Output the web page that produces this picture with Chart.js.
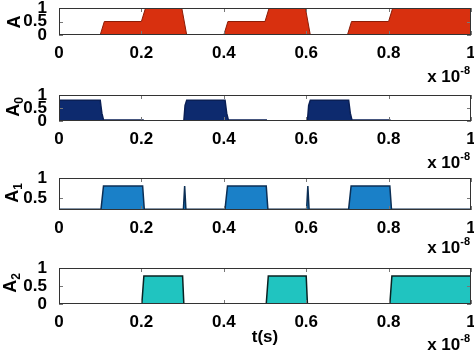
<!DOCTYPE html>
<html>
<head>
<meta charset="utf-8">
<script src="https://cdn.jsdelivr.net/npm/chart.js@4/dist/chart.umd.min.js"></script>
<style>
  body { margin: 0; background: #fff; width: 474px; height: 350px; overflow: hidden; position: relative;
         font-family: "Liberation Sans", Arial, sans-serif; font-weight: bold; }
  canvas { position: absolute; left: 0; }
  .lbl { position: absolute; font-size: 17px; line-height: 17px; white-space: nowrap; color: #000; }
  .ylab { font-size: 18px; transform: translate(-50%, -50%) rotate(-90deg); }
  .ylab sub { font-size: 12px; line-height: 0; vertical-align: -4px; }
  .exp { right: 4px; }
  .exp sup { font-size: 11px; line-height: 0; vertical-align: 8px; }
</style>
</head>
<body>
<canvas id="c1" width="474" height="67" style="top:-2px"></canvas>
<canvas id="c2" width="474" height="66" style="top:85px"></canvas>
<canvas id="c3" width="474" height="72" style="top:168px"></canvas>
<canvas id="c4" width="474" height="76" style="top:258px"></canvas>

<div class="lbl ylab" style="left:14px;top:22px">A</div>
<div class="lbl ylab" style="left:13px;top:107px">A<sub>0</sub></div>
<div class="lbl ylab" style="left:12px;top:193px">A<sub>1</sub></div>
<div class="lbl ylab" style="left:10px;top:283px">A<sub>2</sub></div>

<div class="lbl exp" style="top:68px">x 10<sup>-8</sup></div>
<div class="lbl exp" style="top:154px">x 10<sup>-8</sup></div>
<div class="lbl exp" style="top:239px">x 10<sup>-8</sup></div>
<div class="lbl exp" style="top:336px">x 10<sup>-8</sup></div>
<div class="lbl" style="left:265px;top:328px;transform:translateX(-50%)">t(s)</div>

<script>
// time in units of 1e-8 s
const xTicks = [0, 0.2, 0.4, 0.6, 0.8, 1];

// A
const tA = [0, 0.1, 0.11, 0.2, 0.21, 0.298, 0.31, 0.4, 0.41, 0.5, 0.51, 0.598, 0.61, 0.7, 0.71, 0.8, 0.81, 1];
const vA = [0, 0, 0.5, 0.5, 1, 1, 0, 0, 0.5, 0.5, 1, 1, 0, 0, 0.5, 0.5, 1, 1];

// A0
const tA0 = [0, 0.1, 0.104, 0.108, 0.204, 0.204, 0.303, 0.306, 0.31, 0.403, 0.407, 0.411, 0.503, 0.503,
             0.603, 0.606, 0.61, 0.703, 0.707, 0.711, 0.803, 0.803, 1];
const vA0 = [0.8, 0.8, 0.3, 0.04, 0.04, 0, 0, 0.6, 0.8, 0.8, 0.3, 0.04, 0.04, 0,
             0, 0.6, 0.8, 0.8, 0.3, 0.04, 0.04, 0, 0];

// A1
const tA1 = [0, 0.102, 0.108, 0.203, 0.207, 0.302, 0.305, 0.308, 0.403, 0.409, 0.503, 0.507,
             0.601, 0.604, 0.607, 0.703, 0.709, 0.803, 0.807, 1];
const vA1 = [0.22, 0.22, 0.8, 0.8, 0.22, 0.22, 0.8, 0.22, 0.22, 0.8, 0.8, 0.22,
             0.22, 0.8, 0.22, 0.22, 0.8, 0.8, 0.22, 0.22];

// A2
const tA2 = [0, 0.201, 0.206, 0.3, 0.303, 0.503, 0.508, 0.6, 0.603, 0.803, 0.808, 1];
const vA2 = [0, 0, 0.78, 0.78, 0, 0, 0.78, 0.78, 0, 0, 0.78, 0.78];

const yTicksFull = [0, 0.5, 1];
const yTicksA1 = [0.5, 1];

const fmt = v => String(Math.round(v * 10) / 10);

// plot box + small inward tick marks, like the matlab axes
const boxPlugin = {
  id: "box",
  afterDatasetsDraw(chart) {
    const { ctx, chartArea: a, scales } = chart;
    ctx.save();
    ctx.lineWidth = 1;
    ctx.strokeStyle = "#777";
    ctx.beginPath();
    scales.x.ticks.forEach(t => {
      const px = Math.round(scales.x.getPixelForValue(t.value)) + 0.5;
      ctx.moveTo(px, a.top); ctx.lineTo(px, a.top + 4);
      ctx.moveTo(px, a.bottom); ctx.lineTo(px, a.bottom - 4);
    });
    scales.y.ticks.forEach(t => {
      const py = Math.round(scales.y.getPixelForValue(t.value)) + 0.5;
      ctx.moveTo(a.left, py); ctx.lineTo(a.left + 4, py);
      ctx.moveTo(a.right, py); ctx.lineTo(a.right - 4, py);
    });
    ctx.stroke();
    ctx.strokeStyle = "#333";
    ctx.strokeRect(a.left + 0.5, a.top + 0.5, a.right - a.left - 1, a.bottom - a.top - 1);
    ctx.restore();
  }
};

function zeroPad(s) {
  s.paddingLeft = 0; s.paddingRight = 0; s.paddingTop = 0; s.paddingBottom = 0;
}

Chart.defaults.font.family = "'Liberation Sans', Arial, sans-serif";
Chart.defaults.font.weight = "bold";
Chart.defaults.font.size = 17;
Chart.defaults.color = "#000";

function makeChart(id, t, v, opts) {
  return new Chart(document.getElementById(id), {
    type: "line",
    data: {
      datasets: [{
        data: t.map((x, i) => ({ x: x, y: v[i] })),
        borderColor: opts.line,
        backgroundColor: opts.fill,
        borderWidth: opts.bw,
        fill: "start",
        pointRadius: 0,
        tension: 0
      }]
    },
    options: {
      responsive: false,
      animation: false,
      events: [],
      layout: { padding: { top: 10, right: 3, left: 0, bottom: 0 } },
      plugins: { legend: { display: false }, tooltip: { enabled: false } },
      scales: {
        x: {
          type: "linear", min: 0, max: 1,
          grid: { display: false }, border: { display: false },
          afterBuildTicks: s => { s.ticks = xTicks.map(value => ({ value })); },
          afterFit: s => { s.height = 30; zeroPad(s); },
          ticks: { padding: 0, maxRotation: 0, autoSkip: false, callback: fmt }
        },
        y: {
          min: opts.ymin, max: 1,
          grid: { display: false }, border: { display: false },
          afterBuildTicks: s => { s.ticks = opts.yticks.map(value => ({ value })); },
          afterFit: s => { s.width = 59; zeroPad(s); },
          ticks: { padding: 4, autoSkip: false, callback: fmt }
        }
      }
    },
    plugins: [boxPlugin]
  });
}

makeChart("c1", tA, vA, { fill: "#d8300f", line: "#8c1c06", bw: 1, ymin: 0, yticks: yTicksFull });
makeChart("c2", tA0, vA0, { fill: "#0d2a6e", line: "#0a1f55", bw: 1.5, ymin: 0, yticks: yTicksFull });
makeChart("c3", tA1, vA1, { fill: "#1a80c8", line: "#0c2f55", bw: 1.5, ymin: 0.2, yticks: yTicksA1 });
makeChart("c4", tA2, vA2, { fill: "#20c4c0", line: "#0a2222", bw: 1.5, ymin: 0, yticks: yTicksFull });
</script>
</body>
</html>
